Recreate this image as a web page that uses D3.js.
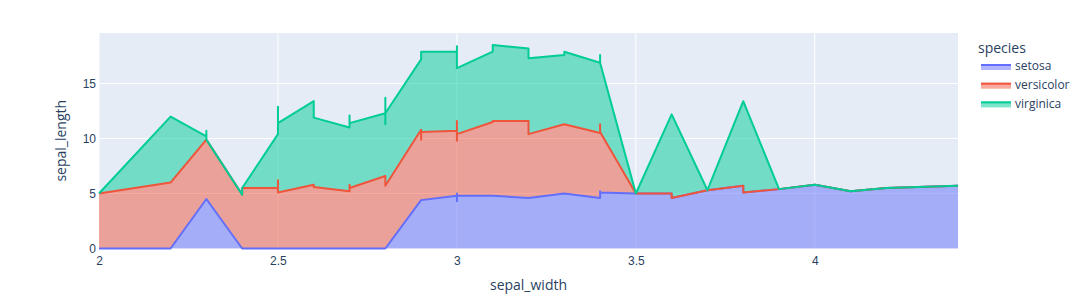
<!DOCTYPE html>
<html>
    <head>
        <title>Iris area</title>
        <script src="https://d3js.org/d3.v7.min.js"></script>
        <style>
            body {
                margin: 0;
                background: #fff;
                font-family: 'Open Sans', verdana, arial, sans-serif;
            }
            .grid line {
                stroke: #fff;
                stroke-width: 1px;
            }
            .tick text {
                fill: #2a3f5f;
                font-size: 12px;
            }
        </style>
    </head>
    <body>
        <script>
            // one entry per drawn step; repeated widths make the short vertical jumps
            const sepalWidth = [
                2.0, 2.2, 2.3, 2.3, 2.3, 2.4, 2.4, 2.5, 2.5, 2.5, 2.6, 2.6, 2.7, 2.7, 2.7, 2.8, 2.8, 2.8, 2.8,
                2.9, 2.9, 2.9, 3.0, 3.0, 3.0, 3.0, 3.1, 3.1, 3.2, 3.2, 3.3, 3.3, 3.4, 3.4, 3.4, 3.5, 3.6, 3.6,
                3.7, 3.8, 3.8, 3.9, 4.0, 4.1, 4.2, 4.4,
            ];
            const setosa = [
                0, 0, 4.5, 4.5, 4.5, 0, 0, 0, 0, 0, 0, 0, 0, 0, 0, 0, 0, 0, 0,
                4.4, 4.4, 4.4, 4.8, 5.0, 4.3, 4.8, 4.8, 4.8, 4.6, 4.6, 5.0, 5.0, 4.6, 5.2, 5.1, 5.0, 5.0, 4.6,
                5.3, 5.7, 5.1, 5.4, 5.8, 5.2, 5.5, 5.7,
            ];
            const versicolor = [
                5.0, 6.0, 5.4, 5.4, 5.4, 4.9, 5.5, 5.5, 6.2, 5.1, 5.8, 5.6, 5.2, 5.8, 5.5, 6.6, 5.7, 5.7, 5.7,
                6.4, 5.5, 6.2, 5.9, 6.6, 5.5, 5.6, 6.7, 6.8, 7.0, 5.8, 6.3, 6.3, 5.9, 6.1, 5.5, 0, 0, 0,
                0, 0, 0, 0, 0, 0, 0, 0,
            ];
            const virginica = [
                0, 6.0, 0.3, 0.8, 0, 0, 0, 4.9, 6.7, 6.3, 7.6, 6.3, 5.8, 6.3, 5.9, 5.7, 8.0, 5.6, 6.6,
                6.4, 8.0, 7.3, 7.2, 6.8, 6.6, 6.0, 6.4, 6.9, 6.6, 6.9, 6.3, 6.6, 6.4, 6.3, 6.3, 0, 7.2, 7.6,
                0, 7.7, 8.3, 0, 0, 0, 0, 0,
            ];

            const species = ['setosa', 'versicolor', 'virginica'];
            const colors = ['#636efa', '#EF553B', '#00cc96'];
            const fills = ['rgba(99,110,250,0.5)', 'rgba(239,85,59,0.5)', 'rgba(0,204,150,0.5)'];
            const xTicks = [2, 2.5, 3, 3.5, 4];
            const yTicks = [0, 5, 10, 15];

            const width = 1080;
            const height = 304;
            const plot = { left: 99, right: 958, top: 33, bottom: 248.5 };

            const rows = sepalWidth.map((x, i) => ({
                x,
                setosa: setosa[i],
                versicolor: versicolor[i],
                virginica: virginica[i],
            }));
            const series = d3.stack().keys(species)(rows);

            const x = d3.scaleLinear().domain([2, 4.4]).range([plot.left, plot.right]);
            const y = d3.scaleLinear().domain([0, 19.6]).range([plot.bottom, plot.top]);

            const svg = d3.select('body').append('svg').attr('width', width).attr('height', height);

            svg.append('rect')
                .attr('x', plot.left)
                .attr('y', plot.top)
                .attr('width', plot.right - plot.left)
                .attr('height', plot.bottom - plot.top)
                .attr('fill', '#E5ECF6');

            const grid = svg.append('g').attr('class', 'grid');
            grid.selectAll('.vx')
                .data(xTicks)
                .enter()
                .append('line')
                .attr('x1', (d) => x(d))
                .attr('x2', (d) => x(d))
                .attr('y1', plot.top)
                .attr('y2', plot.bottom);
            grid.selectAll('.hy')
                .data(yTicks)
                .enter()
                .append('line')
                .attr('x1', plot.left)
                .attr('x2', plot.right)
                .attr('y1', (d) => y(d))
                .attr('y2', (d) => y(d));

            const area = d3
                .area()
                .x((d) => x(d.data.x))
                .y0((d) => y(d[0]))
                .y1((d) => y(d[1]));
            const line = d3
                .line()
                .x((d) => x(d.data.x))
                .y((d) => y(d[1]));

            svg.append('g')
                .selectAll('path')
                .data(series)
                .enter()
                .append('path')
                .attr('d', area)
                .attr('fill', (d, i) => fills[i]);

            svg.append('g')
                .selectAll('path')
                .data(series)
                .enter()
                .append('path')
                .attr('d', line)
                .attr('fill', 'none')
                .attr('stroke', (d, i) => colors[i])
                .attr('stroke-width', 2)
                .attr('stroke-linejoin', 'round');

            const xAxis = svg
                .append('g')
                .attr('transform', `translate(0,${plot.bottom})`)
                .call(d3.axisBottom(x).tickValues(xTicks).tickSize(0).tickPadding(8).tickFormat(d3.format('')));
            xAxis.select('.domain').remove();

            const yAxis = svg
                .append('g')
                .attr('transform', `translate(${plot.left},0)`)
                .call(d3.axisLeft(y).tickValues(yTicks).tickSize(0).tickPadding(3));
            yAxis.select('.domain').remove();
            yAxis.selectAll('.tick text').attr('dy', '0.36em');

            svg.append('text')
                .attr('x', (plot.left + plot.right) / 2)
                .attr('y', 290)
                .attr('text-anchor', 'middle')
                .attr('fill', '#2a3f5f')
                .style('font-size', '14px')
                .text('sepal_width');

            svg.append('text')
                .attr('transform', `translate(66,${(plot.top + plot.bottom) / 2}) rotate(-90)`)
                .attr('text-anchor', 'middle')
                .attr('fill', '#2a3f5f')
                .style('font-size', '14px')
                .text('sepal_length');

            const legend = svg.append('g').attr('transform', 'translate(978,0)');
            legend.append('text')
                .attr('x', 0)
                .attr('y', 53)
                .attr('fill', '#2a3f5f')
                .style('font-size', '14px')
                .text('species');

            const item = legend
                .selectAll('.item')
                .data(species)
                .enter()
                .append('g')
                .attr('transform', (d, i) => `translate(0,${66 + i * 18.7})`);
            item.append('rect')
                .attr('x', 3)
                .attr('y', -2)
                .attr('width', 30)
                .attr('height', 6)
                .attr('fill', (d, i) => fills[i]);
            item.append('line')
                .attr('x1', 3)
                .attr('x2', 33)
                .attr('y1', -1)
                .attr('y2', -1)
                .attr('stroke', (d, i) => colors[i])
                .attr('stroke-width', 2);
            item.append('text')
                .attr('x', 37)
                .attr('y', 0)
                .attr('dy', '0.36em')
                .attr('fill', '#2a3f5f')
                .style('font-size', '12px')
                .text((d) => d);
        </script>
    </body>
</html>
